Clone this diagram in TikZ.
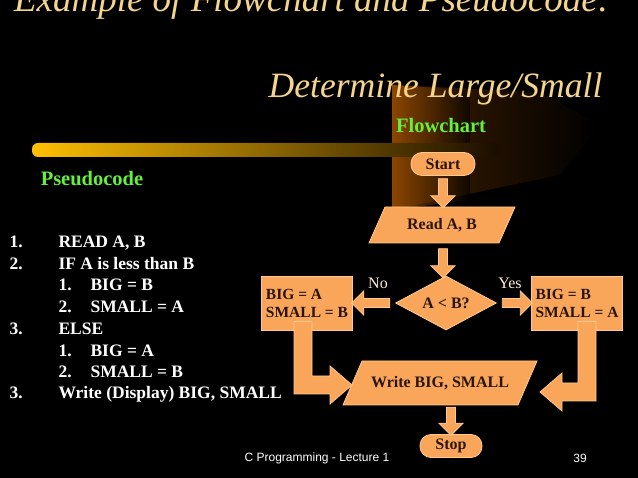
\documentclass[tikz,border=0pt]{standalone}
\usepackage{fontspec}
\setmainfont{Liberation Serif}
\setsansfont{Liberation Sans}
\usetikzlibrary{shapes.geometric,shapes.arrows,calc}
\definecolor{org}{RGB}{250,166,90}
\definecolor{orgline}{RGB}{255,200,140}
\definecolor{titlec}{RGB}{245,212,140}
\definecolor{grn}{RGB}{100,240,60}
\definecolor{txt}{RGB}{40,20,10}
\begin{document}
\begin{tikzpicture}[x=1pt,y=-1pt,
  blk/.style={fill=org,draw=orgline,line width=0.8pt},
  lab/.style={font=\bfseries\fontsize{16}{17}\selectfont,text=txt},
  term/.style={blk,rounded corners=11pt,lab,minimum height=23pt,minimum width=64pt,inner sep=2pt},
  box/.style={blk,lab,font=\bfseries\fontsize{15.5}{18}\selectfont,minimum width=91pt,minimum height=54pt,align=left,inner sep=1.5pt},
  barrow/.style={blk,single arrow,single arrow head extend=4pt,minimum height=30pt,minimum width=24pt,inner sep=2pt},
  pc/.style={anchor=base west,font=\bfseries\fontsize{17.5}{19}\selectfont,text=white}]
\fill[black] (0,0) rectangle (638,478);
\useasboundingbox (0,0) rectangle (638,478);
% glow
\shade[left color=orange!55!black,right color=black,opacity=0.45] (392,85) -- (540,92) -- (600,125) -- (560,175) -- (392,210) -- cycle;
\shade[left color=orange!75!black,right color=black,opacity=0.6] (392,85) -- (470,90) -- (470,200) -- (392,210) -- cycle;
% bar
\shade[left color={rgb,255:red,255;green,192;blue,0},right color=black!90!orange,rounded corners=6pt] (32,143) rectangle (500,157);
% titles
\node[text=titlec,font=\itshape\fontsize{37}{40}\selectfont,anchor=base] (t1) at (312,12) {Example of Flowchart and Pseudocode:};
\node[text=titlec,font=\itshape\fontsize{35.6}{40}\selectfont,anchor=base east] (t2) at (606,98) {Determine Large/Small};
\node[text=grn,font=\bfseries\fontsize{20.5}{22}\selectfont] (fc) at (441,125) {Flowchart};
\node[text=grn,font=\bfseries\fontsize{20.5}{22}\selectfont] (pcl) at (92,179) {Pseudocode};
% pseudocode
\node[pc] (p1a) at (6,248) {1.}; \node[pc] (p1) at (55,248) {READ A, B};
\node[pc] (p2a) at (6,270) {2.}; \node[pc] (p2) at (55,270) {IF A is less than B};
\node[pc] (p3a) at (55,291) {1.}; \node[pc] (p3) at (87,291) {BIG = B};
\node[pc] (p4a) at (55,313) {2.}; \node[pc] (p4) at (87,313) {SMALL = A};
\node[pc] (p5a) at (6,335) {3.}; \node[pc] (p5) at (55,335) {ELSE};
\node[pc] (p6a) at (55,357) {1.}; \node[pc] (p6) at (87,357) {BIG = A};
\node[pc] (p7a) at (55,378) {2.}; \node[pc] (p7) at (87,378) {SMALL = B};
\node[pc] (p8a) at (6,399) {3.}; \node[pc] (p8) at (55,399) {Write (Display) BIG, SMALL};
% flowchart
\node[term] (start) at (443,164) {Start};
\draw[blk] (385,207) -- (515,207) -- (499,243) -- (369,243) -- cycle;
\node[lab] (read) at (442,225) {Read A, B};
\node[blk,diamond,aspect=1.9,lab,inner sep=1pt,minimum width=101pt,minimum height=54pt] (dec) at (446,303) {A < B?};
\node[box] (no) at (307,303) {BIG = A\\SMALL = B};
\node[box] (yes) at (577,303) {BIG = B\\SMALL = A};
\draw[blk] (362,361) -- (537,361) -- (518,405) -- (343,405) -- cycle;
\node[lab] (write) at (440,383) {Write BIG, SMALL};
\node[term,minimum width=62pt] (stop) at (451,446) {Stop};
\node[text=white!85!orange,font=\fontsize{16}{18}\selectfont] (nol) at (378,283) {No};
\node[text=white!85!orange,font=\fontsize{16}{18}\selectfont] (yesl) at (510,283) {Yes};
% block arrows
\node[barrow,rotate=-90,minimum height=29pt] (a1) at (443,191) {};
\node[barrow,rotate=-90,minimum height=29pt] (a2) at (443,261) {};
\node[barrow,rotate=180,minimum height=38pt] (a3) at (373,303) {};
\node[barrow,minimum height=30pt] (a4) at (515,303) {};
\node[barrow,rotate=-90,minimum height=28pt] (a5) at (451,419) {};
% elbow arrows
\draw[blk] ([xshift=-13pt,yshift=9pt]no.south) -- ([xshift=5pt,yshift=9pt]no.south) -- (312,376) -- (330,376) -- (330,366) -- (352,385) -- (330,404) -- (330,394) -- (294,394) -- cycle;
\draw[blk] ([xshift=19pt,yshift=9pt]yes.south) -- ([xshift=1pt,yshift=9pt]yes.south) -- (578,383) -- (562,383) -- (562,373) -- (540,392) -- (562,411) -- (562,401) -- (596,401) -- cycle;
% footer
\node[text=white,font=\sffamily\fontsize{12}{14}\selectfont] (foot) at (317,458) {C Programming - Lecture 1};
\node[text=white,font=\sffamily\fontsize{12}{14}\selectfont] (pg) at (580,458) {39};
\end{tikzpicture}
\end{document}
